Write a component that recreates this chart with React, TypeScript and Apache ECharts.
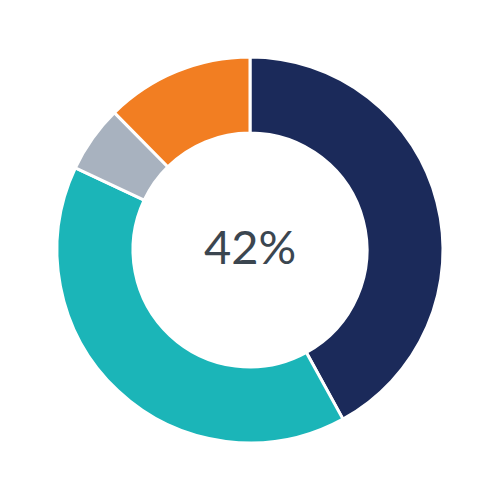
import React, { useEffect, useRef } from 'react';
import * as echarts from 'echarts';

const categories = ['A', 'B', 'C', 'D'];
const values = [42, 40, 5.6, 12.4];
const colors = ['#1b2a5a', '#1bb5b8', '#a8b2bf', '#f27e22'];
const centerLabel = '42%';

export default function App() {
  const chartRef = useRef<HTMLDivElement>(null);

  useEffect(() => {
    document.body.style.margin = '0';
    if (!chartRef.current) return;
    const chart = echarts.init(chartRef.current, null, { renderer: 'svg' });

    chart.setOption({
      animation: false,
      backgroundColor: '#ffffff',
      graphic: [{
        type: 'text',
        x: 250,
        y: 246,
        style: {
          text: centerLabel,
          fontFamily: 'Lato',
          fontSize: 47,
          fill: '#3b4650',
          align: 'center',
          verticalAlign: 'middle'
        }
      }],
      series: [{
        type: 'pie',
        center: [250, 250],
        radius: [117, 193],
        startAngle: 90,
        clockwise: true,
        label: { show: false },
        labelLine: { show: false },
        emphasis: { disabled: true },
        itemStyle: {
          borderColor: '#ffffff',
          borderWidth: 3
        },
        data: categories.map((name, i) => ({
          name,
          value: values[i],
          itemStyle: { color: colors[i] }
        }))
      }]
    });

    return () => {
      chart.dispose();
    };
  }, []);

  return <div ref={chartRef} style={{ width: 500, height: 500 }} />;
}
